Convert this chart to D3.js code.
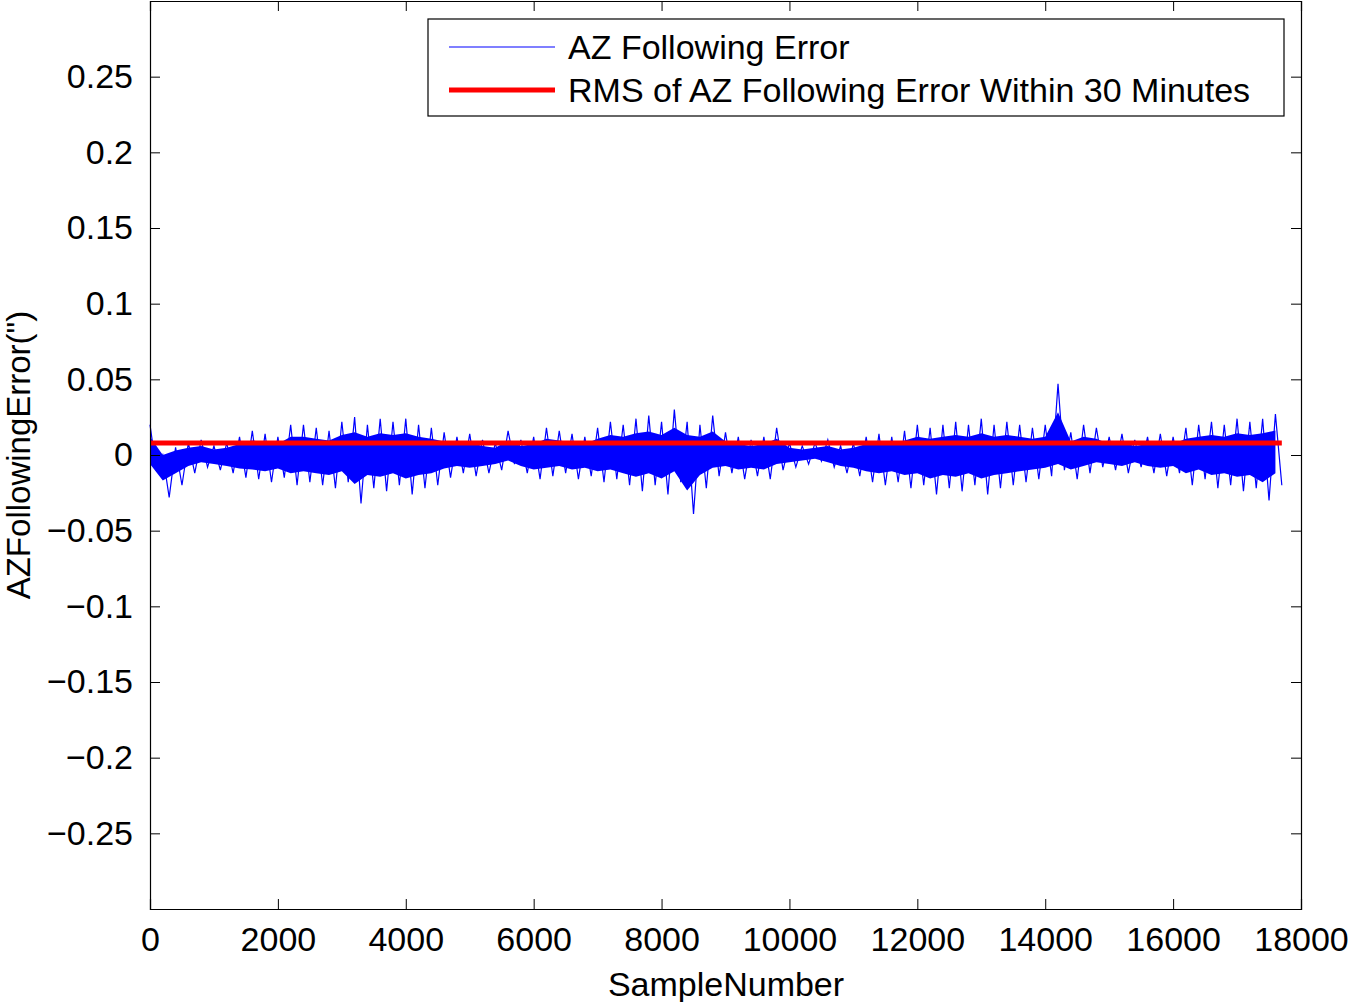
<!DOCTYPE html>
<html><head><meta charset="utf-8">
<script src="https://cdn.jsdelivr.net/npm/d3@7"></script>
<style>body{margin:0;background:#fff}text{font-family:"Liberation Sans",Arial,sans-serif}</style>
</head><body><div id="chart"></div>
<script>
"use strict"

// envelope of the following error, one value every 200 samples
const sampleStep = 200;
const upper = [0.02,0.0,0.005,0.008,0.01,0.006,0.008,0.012,0.016,0.014,
  0.012,0.02,0.02,0.018,0.016,0.022,0.025,0.02,0.024,0.022,
  0.024,0.02,0.018,0.015,0.012,0.014,0.01,0.008,0.016,0.01,
  0.012,0.018,0.016,0.014,0.012,0.018,0.022,0.02,0.024,0.026,
  0.022,0.03,0.022,0.02,0.026,0.015,0.012,0.01,0.012,0.018,
  0.008,0.006,0.008,0.01,0.006,0.008,0.012,0.014,0.012,0.016,
  0.02,0.018,0.02,0.022,0.02,0.024,0.02,0.022,0.02,0.018,
  0.02,0.047,0.015,0.02,0.018,0.012,0.014,0.01,0.012,0.014,
  0.012,0.018,0.02,0.022,0.02,0.024,0.022,0.024,0.027];
const lower = [-0.01,-0.028,-0.02,-0.012,-0.008,-0.01,-0.012,-0.015,-0.016,-0.018,
  -0.015,-0.02,-0.018,-0.02,-0.022,-0.018,-0.032,-0.022,-0.024,-0.02,
  -0.026,-0.022,-0.02,-0.015,-0.012,-0.014,-0.012,-0.01,-0.006,-0.012,
  -0.016,-0.014,-0.012,-0.016,-0.014,-0.018,-0.016,-0.02,-0.024,-0.02,
  -0.026,-0.018,-0.039,-0.022,-0.014,-0.012,-0.016,-0.014,-0.016,-0.01,
  -0.008,-0.006,-0.004,-0.008,-0.012,-0.014,-0.018,-0.02,-0.018,-0.022,
  -0.02,-0.026,-0.022,-0.024,-0.02,-0.026,-0.022,-0.02,-0.018,-0.016,
  -0.014,-0.01,-0.016,-0.012,-0.008,-0.01,-0.012,-0.008,-0.012,-0.014,
  -0.012,-0.02,-0.016,-0.022,-0.02,-0.024,-0.022,-0.03,-0.02];
const rmsValue = 0.008;
const rmsRange = [0, 17700];
const xTicks = [0,2000,4000,6000,8000,10000,12000,14000,16000,18000];
const yTicks = [-0.25,-0.2,-0.15,-0.1,-0.05,0,0.05,0.1,0.15,0.2,0.25];
const legendLabels = ["AZ Following Error", "RMS of AZ Following Error Within 30 Minutes"];

const W = 1350, H = 1002;
const FS = 34;
const x = d3.scaleLinear().domain([0, 18000]).range([150, 1301]);
const y = d3.scaleLinear().domain([-0.3, 0.3]).range([909, 1]);

const svg = d3.select("#chart").append("svg").attr("width", W).attr("height", H);

const pts = [];
upper.forEach((u, i) => {
    pts.push([i * sampleStep, u]);
    pts.push([i * sampleStep + sampleStep / 2, lower[i]]);
});
const band = upper.map((u, i) => ({s: i * sampleStep, u: u, l: lower[i]}));

svg.append("path").datum(band)
    .attr("d", d3.area().x(d => x(d.s)).y0(d => y(d.l * 0.6)).y1(d => y(d.u * 0.6)))
    .attr("fill", "#0000ff");
svg.append("path").datum(pts)
    .attr("d", d3.line().x(d => x(d[0])).y(d => y(d[1])))
    .attr("fill", "none").attr("stroke", "#0000ff").attr("stroke-width", 1.2);

svg.append("line")
    .attr("x1", x(rmsRange[0])).attr("x2", x(rmsRange[1]))
    .attr("y1", y(rmsValue)).attr("y2", y(rmsValue))
    .attr("stroke", "#ff0000").attr("stroke-width", 5);

// axes with inward ticks on all sides
const fmt = d => (d < 0 ? "\u2212" : "") + String(Math.abs(d));
svg.append("g").attr("transform", "translate(0,909)")
    .call(d3.axisBottom(x).tickValues(xTicks).tickSize(-10).tickPadding(18).tickFormat(fmt));
svg.append("g").attr("transform", "translate(0,1)")
    .call(d3.axisTop(x).tickValues(xTicks).tickSize(-10).tickFormat(""));
svg.append("g").attr("transform", "translate(150,0)")
    .call(d3.axisLeft(y).tickValues(yTicks).tickSize(-10).tickPadding(17).tickFormat(fmt));
svg.append("g").attr("transform", "translate(1301,0)")
    .call(d3.axisRight(y).tickValues(yTicks).tickSize(-10).tickFormat(""));
svg.selectAll(".domain").attr("stroke", "#000").attr("stroke-width", 1.2);
svg.selectAll(".tick line").attr("stroke", "#000");
svg.selectAll(".tick text").attr("font-size", FS).attr("fill", "#000")
    .attr("font-family", "'Liberation Sans',Arial,sans-serif");

svg.append("text").attr("x", 726).attr("y", 996).attr("text-anchor", "middle")
    .attr("font-size", FS).text("SampleNumber");
svg.append("text").attr("transform", "translate(30,455) rotate(-90)")
    .attr("text-anchor", "middle").attr("font-size", 33).text("AZFollowingError(\")");

// legend
const lg = svg.append("g");
lg.append("rect").attr("x", 428).attr("y", 19).attr("width", 856).attr("height", 97)
    .attr("fill", "#fff").attr("stroke", "#000").attr("stroke-width", 1.2);
legendLabels.forEach((t, i) => {
    const yy = 47 + i * 43;
    lg.append("line").attr("x1", 449).attr("x2", 555).attr("y1", yy).attr("y2", yy)
        .attr("stroke", i ? "#ff0000" : "#0000ff").attr("stroke-width", i ? 5 : 1.2);
    lg.append("text").attr("x", 568).attr("y", yy + 12).attr("font-size", FS).text(t);
});
</script></body></html>
